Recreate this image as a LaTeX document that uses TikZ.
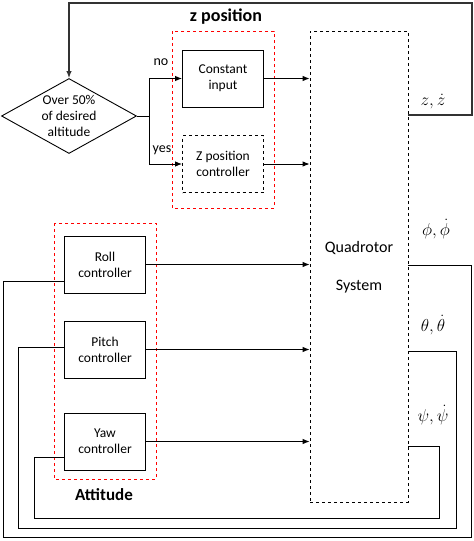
\documentclass[tikz,border=0pt]{standalone}
\usepackage{fontspec}
\setmainfont{Carlito}
\usetikzlibrary{shapes.geometric,arrows.meta}
\tikzset{
    block/.style={draw, line width=0.9pt, minimum width=81pt, minimum height=57pt, align=center, font=\fontsize{13.5}{16}\selectfont},
    dblock/.style={block, dashed},
    redgroup/.style={draw=red, dashed, line width=0.8pt},
    feed/.style={draw, line width=0.7pt},
    sig/.style={-{Latex[length=7pt,width=5.5pt]}, line width=0.9pt},
    outlbl/.style={font=\fontsize{18}{18}\selectfont},
}
\begin{document}
\begin{tikzpicture}[x=1pt, y=-1pt]
            \useasboundingbox (0,0) rectangle (474,541);

            % decision and z position branch
            \node[draw, line width=0.9pt, shape=diamond, aspect=1.8, minimum width=135pt, minimum height=75pt, inner sep=0pt, align=center, font=\fontsize{13.5}{16}\selectfont] (dec) at (69,116) {Over 50\%\\of desired\\altitude};
            \node[block] (const) at (223,78.5) {Constant\\input};
            \node[dblock] (zpos) at (223,164) {Z position\\controller};
            \draw[redgroup] (172,31) rectangle (274,208);
            \node[font=\fontsize{18}{18}\bfseries] (ztitle) at (226,17) {z position};

            % attitude controllers
            \node[block] (roll) at (105,264.5) {Roll\\controller};
            \node[block] (pitch) at (105,349.5) {Pitch\\controller};
            \node[block] (yaw) at (105,441.5) {Yaw\\controller};
            \draw[redgroup] (54,223) rectangle (156,479);
            \node[font=\fontsize{17}{17}\bfseries] (atitle) at (104,495) {Attitude};

            % plant
            \node[draw, dashed, line width=0.8pt, minimum width=98pt, minimum height=471pt] (quad) at (359,266.5) {};
            \node[align=center, font=\fontsize{16}{38}\selectfont] (qtext) at (359,267) {Quadrotor\\System};

            % branch from decision
            \draw[line width=0.9pt] (dec.east) -- ++(12,0) coordinate (br);
            \draw[sig] (br) |- (const.west);
            \draw[sig] (br) |- (zpos.west);
            \node[font=\fontsize{14}{14}\selectfont] (no) at (161,62) {no};
            \node[font=\fontsize{14}{14}\selectfont] (yes) at (162,150) {yes};

            % inputs to plant
            \draw[sig] (const.east) -- (quad.west |- const.east);
            \draw[sig] (zpos.east) -- (quad.west |- zpos.east);
            \draw[sig] (roll.east) -- (quad.west |- roll.east);
            \draw[sig] (pitch.east) -- (quad.west |- pitch.east);
            \draw[sig] (yaw.east) -- (quad.west |- yaw.east);

            % feedback loops
            \path (quad.east |- 0,115) coordinate (zo);
            \path (quad.east |- 0,265) coordinate (pho);
            \path (quad.east |- 0,351) coordinate (tho);
            \path (quad.east |- 0,446) coordinate (pso);
            \draw[sig, line width=1.1pt, draw=black!80] (zo) -- (472,115) -- (472,3) -- (69,3) -- (dec.north);
            \draw[feed] (pho) -- (471,265) -- (471,537) -- (3,537) -- (3,281) -- ([yshift=-16.5pt]roll.west);
            \draw[feed] (tho) -- (456,351) -- (456,528) -- (18,528) -- (18,347) -- ([yshift=2.5pt]pitch.west);
            \draw[feed] (pso) -- (439,446) -- (439,518) -- (34,518) -- (34,457) -- ([yshift=-15.5pt]yaw.west);

            \node[outlbl] (lz) at (433,102) {$z,\dot z$};
            \node[outlbl] (lph) at (436,229) {$\phi,\dot\phi$};
            \node[outlbl] (lth) at (433,325) {$\theta,\dot\theta$};
            \node[outlbl] (lps) at (433,415) {$\psi,\dot\psi$};
\end{tikzpicture}
\end{document}
